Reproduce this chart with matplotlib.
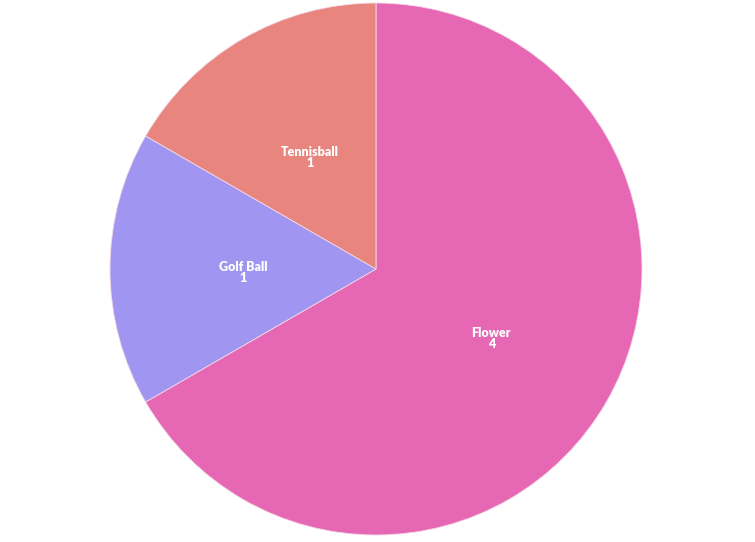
import matplotlib
matplotlib.use("Agg")
import matplotlib.pyplot as plt

# donnees du graphique
categories = ["Flower", "Golf Ball", "Tennisball"]
valeurs = [4, 1, 1]
couleurs = ["#E667B3", "#A195F2", "#E8857F"]

fig = plt.figure(figsize=(7.55, 5.42), dpi=100)
# centre ~ (376, 269) px, rayon ~ 266 px
cx, cy, r = 376, 542 - 269, 266
ax = fig.add_axes([(cx - r) / 755, (cy - r) / 542, 2 * r / 755, 2 * r / 542])

etiquettes = [f"{c}\n{v}" for c, v in zip(categories, valeurs)]
wedges, textes = ax.pie(
    valeurs,
    labels=etiquettes,
    colors=couleurs,
    startangle=90,
    counterclock=False,
    labeldistance=0.5,
    radius=1,
    wedgeprops=dict(edgecolor="#f4d9e6", linewidth=0.6),
    textprops=dict(color="white", fontsize=9, fontweight="heavy",
                   family=["Lato", "DejaVu Sans"], ha="center", va="center",
                   linespacing=0.9),
)
# petit decalage vers le bas des etiquettes
for t in textes:
    x, y = t.get_position()
    t.set_position((x, y - 0.012))

ax.set_xlim(-1, 1)
ax.set_ylim(-1, 1)
ax.set_aspect("equal")
ax.axis("off")

fig.savefig("out.png", dpi=100)
